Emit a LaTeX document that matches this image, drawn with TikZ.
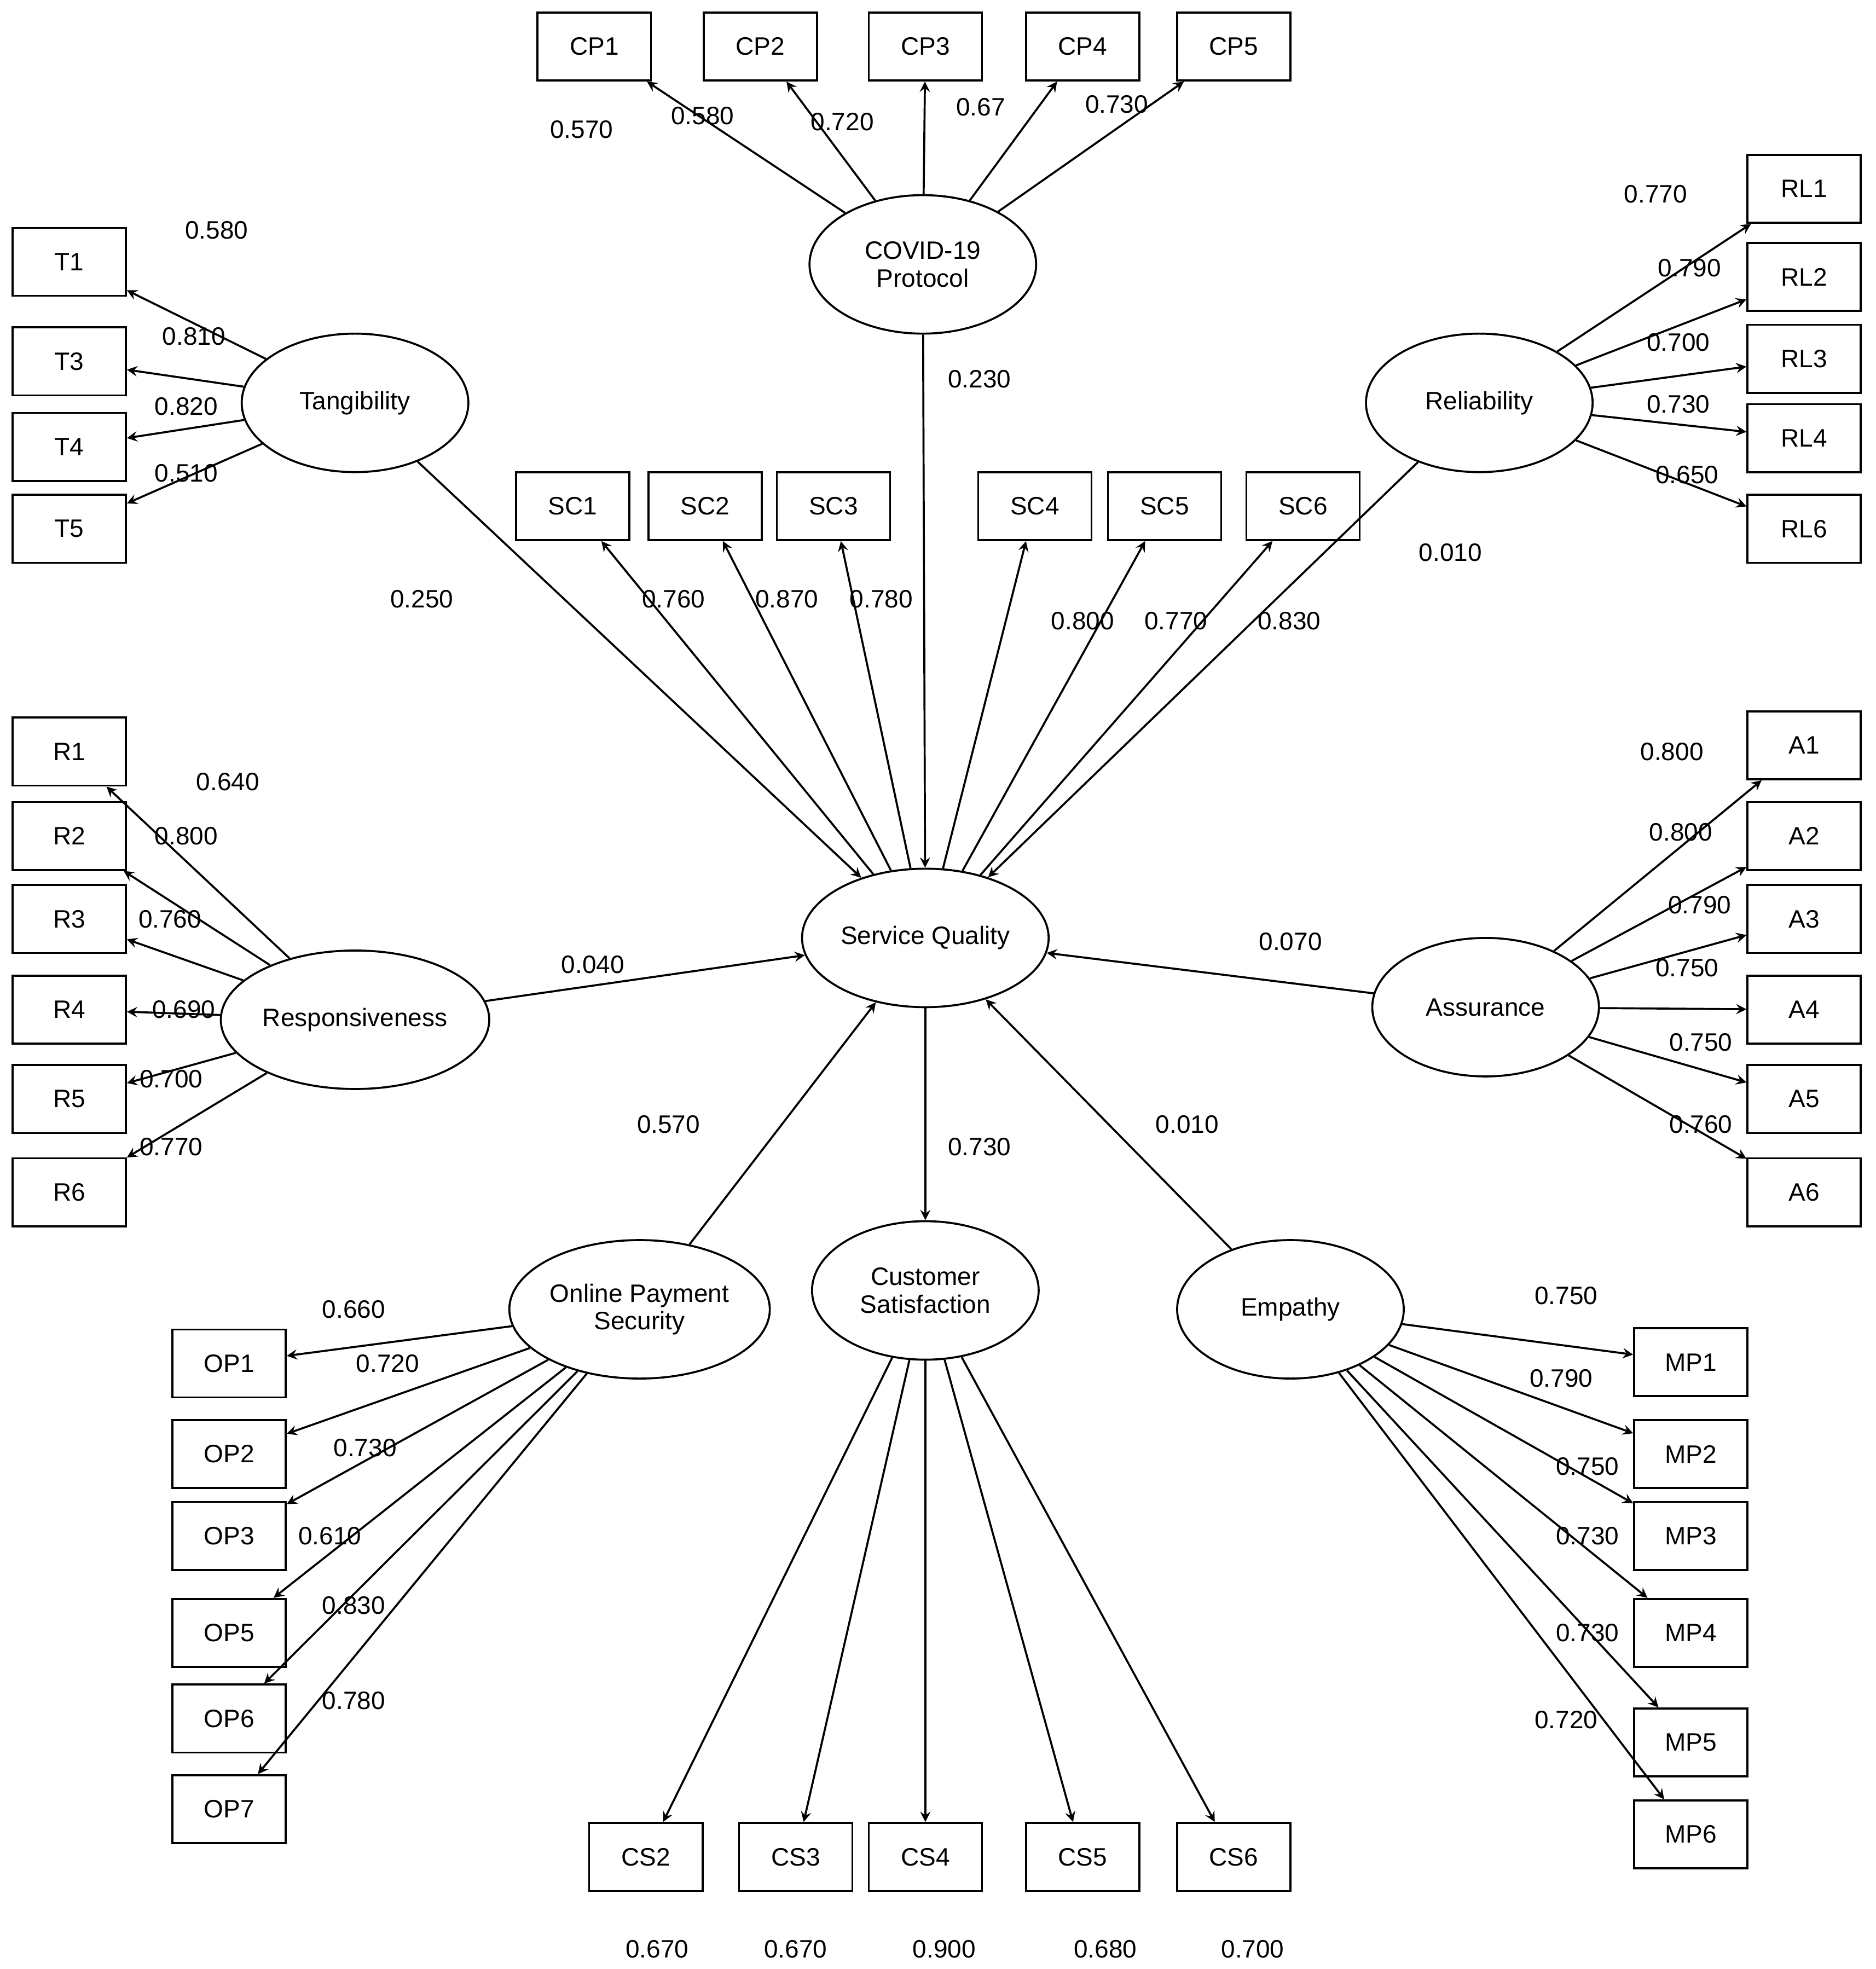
\documentclass[tikz,border=0pt]{standalone}
\usepackage{fontspec}
\setmainfont{Liberation Sans}
\usetikzlibrary{arrows,shapes.geometric}
\begin{document}
\begin{tikzpicture}
[x=0.5pt, y=-0.5pt, >=stealth, font=\fontsize{10}{11}\selectfont,
ind/.style={rectangle, draw=black, thick, minimum width=45pt, minimum height=27pt},
lat/.style={ellipse, draw=black, thick, minimum width=90pt, minimum height=55pt, align=center, inner sep=1pt},
lbl/.style={inner sep=1pt},
path/.style={->, thick}
]
\useasboundingbox (0,0) rectangle (1490,1564);
%Latent variables
\node[lat] (covid) at (733,210) {COVID-19\\Protocol};
\node[lat] (tang)  at (282,320) {Tangibility};
\node[lat] (rel)   at (1175,320) {Reliability};
\node[lat] (sq)    at (735,745) {Service Quality};
\node[lat] (resp)  at (282,810) {Responsiveness};
\node[lat] (ass)   at (1180,800) {Assurance};
\node[lat] (ops)   at (508,1040) {Online Payment\\Security};
\node[lat] (cs)    at (735,1025) {Customer\\Satisfaction};
\node[lat] (emp)   at (1025,1040) {Empathy};

%Indicators
\foreach \n/\x in {CP1/472,CP2/604,CP3/735,CP4/860,CP5/980}
  \node[ind] (\n) at (\x,37) {\n};
\foreach \n/\y in {T1/208,T3/287,T4/355,T5/420}
  \node[ind] (\n) at (55,\y) {\n};
\foreach \n/\y in {RL1/150,RL2/220,RL3/285,RL4/348,RL6/420}
  \node[ind] (\n) at (1433,\y) {\n};
\foreach \n/\x in {SC1/455,SC2/560,SC3/662,SC4/822,SC5/925,SC6/1035}
  \node[ind] (\n) at (\x,402) {\n};
\foreach \n/\y in {R1/597,R2/664,R3/730,R4/802,R5/873,R6/947}
  \node[ind] (\n) at (55,\y) {\n};
\foreach \n/\y in {A1/592,A2/664,A3/730,A4/802,A5/873,A6/947}
  \node[ind] (\n) at (1433,\y) {\n};
\foreach \n/\y in {OP1/1083,OP2/1155,OP3/1220,OP5/1297,OP6/1365,OP7/1437}
  \node[ind] (\n) at (182,\y) {\n};
\foreach \n/\x in {CS2/513,CS3/632,CS4/735,CS5/860,CS6/980}
  \node[ind] (\n) at (\x,1475) {\n};
\foreach \n/\y in {MP1/1082,MP2/1155,MP3/1220,MP4/1297,MP5/1384,MP6/1457}
  \node[ind] (\n) at (1343,\y) {\n};

%Loadings
\foreach \n in {CP1,CP2,CP3,CP4,CP5} \draw[path] (covid) -- (\n);
\foreach \n in {T1,T3,T4,T5} \draw[path] (tang) -- (\n);
\foreach \n in {RL1,RL2,RL3,RL4,RL6} \draw[path] (rel) -- (\n);
\foreach \n in {SC1,SC2,SC3,SC4,SC5,SC6} \draw[path] (sq) -- (\n);
\foreach \n in {R1,R2,R3,R4,R5,R6} \draw[path] (resp) -- (\n);
\foreach \n in {A1,A2,A3,A4,A5,A6} \draw[path] (ass) -- (\n);
\foreach \n in {OP1,OP2,OP3,OP5,OP6,OP7} \draw[path] (ops) -- (\n);
\foreach \n in {CS2,CS3,CS4,CS5,CS6} \draw[path] (cs) -- (\n);
\foreach \n in {MP1,MP2,MP3,MP4,MP5,MP6} \draw[path] (emp) -- (\n);

%Structural paths
\foreach \n in {covid,tang,rel,resp,ass,ops,emp} \draw[path] (\n) -- (sq);
\draw[path] (sq) -- (cs);

%Values
\foreach \v/\x/\y [count=\i] in {
  0.570/462/103, 0.580/558/92, 0.720/669/97, 0.67/779/85, 0.730/887/83,
  0.230/778/301,
  0.580/172/183, 0.810/154/267, 0.820/148/323, 0.510/148/376,
  0.770/1315/154, 0.790/1342/213, 0.700/1333/272, 0.730/1333/321, 0.650/1340/377,
  0.250/335/476, 0.010/1152/439,
  0.760/535/476, 0.870/625/476, 0.780/700/476, 0.800/860/493, 0.770/934/493, 0.830/1024/493,
  0.640/181/621, 0.800/148/664, 0.760/135/730, 0.690/146/802, 0.700/136/857, 0.770/136/911,
  0.040/471/766, 0.070/1025/748,
  0.800/1328/597, 0.800/1335/661, 0.790/1350/719, 0.750/1340/769, 0.750/1351/828, 0.760/1351/893,
  0.570/531/893, 0.730/778/911, 0.010/943/893,
  0.660/281/1040, 0.720/308/1083, 0.730/290/1150, 0.610/262/1220, 0.830/281/1275, 0.780/281/1351,
  0.750/1244/1029, 0.790/1240/1095, 0.750/1261/1165, 0.730/1261/1220, 0.730/1261/1297, 0.720/1244/1366,
  0.670/522/1548, 0.670/632/1548, 0.900/750/1548, 0.680/878/1548, 0.700/995/1548}
  \node[lbl] (v\i) at (\x,\y) {\v};
\end{tikzpicture}
\end{document}
